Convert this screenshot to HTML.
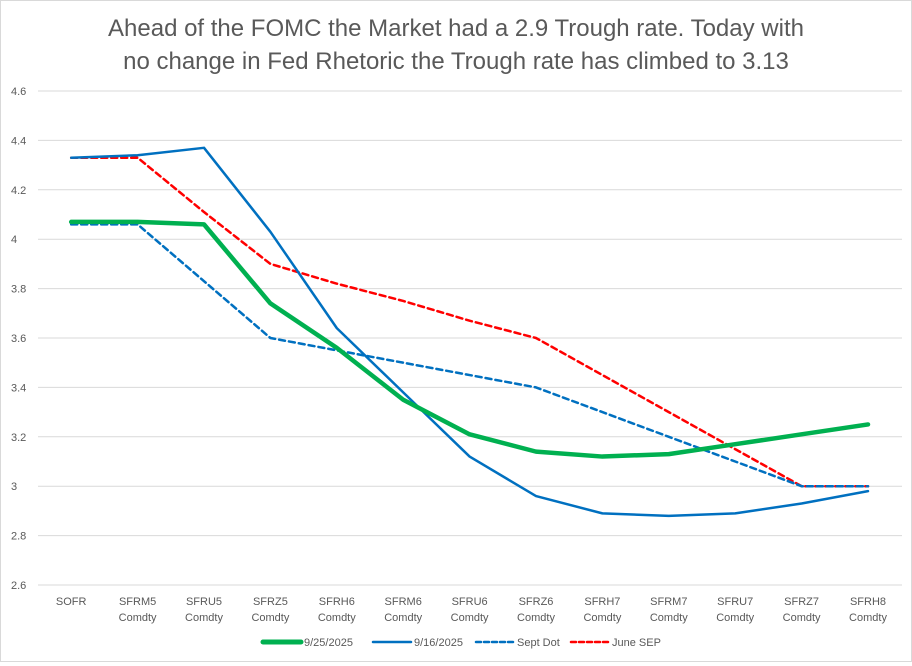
<!DOCTYPE html>
<html><head><meta charset="utf-8"><style>
body{margin:0;background:#fff;font-family:"Liberation Sans",sans-serif}
#wrap{position:relative;width:912px;height:662px;box-sizing:border-box;border:1px solid #d9d9d9;background:#fff}
</style></head><body>
<div id="wrap">
<svg id="chart" width="910" height="660"></svg>
</div>
<script>
const categories=["SOFR","SFRM5|Comdty","SFRU5|Comdty","SFRZ5|Comdty","SFRH6|Comdty","SFRM6|Comdty","SFRU6|Comdty","SFRZ6|Comdty","SFRH7|Comdty","SFRM7|Comdty","SFRU7|Comdty","SFRZ7|Comdty","SFRH8|Comdty"];
const s0925=[4.07,4.07,4.06,3.74,3.56,3.35,3.21,3.14,3.12,3.13,3.17,3.21,3.25];
const s0916=[4.33,4.34,4.37,4.03,3.64,3.38,3.12,2.96,2.89,2.88,2.89,2.93,2.98];
const septDot=[4.06,4.06,3.83,3.60,3.55,3.50,3.45,3.40,3.30,3.20,3.10,3.00,3.00];
const juneSep=[4.33,4.33,4.11,3.90,3.82,3.75,3.67,3.60,3.45,3.30,3.15,3.00,3.00];
const yTicks=["2.6","2.8","3","3.2","3.4","3.6","3.8","4","4.2","4.4","4.6"];
const seriesNames=["9/25/2025","9/16/2025","Sept Dot","June SEP"];

const NS="http://www.w3.org/2000/svg";
const svg=document.getElementById('chart');
function mk(t,a,p){const e=document.createElementNS(NS,t);for(const k in a)e.setAttribute(k,a[k]);(p||svg).appendChild(e);return e;}
const x0=37,bw=66.4;
function xs(i){return x0+bw*(i+0.5);}
function ys(v){return 584-(v-2.6)/0.2*49.4;}

let t=mk('text',{x:455,y:35,'text-anchor':'middle','font-size':'24',fill:'#595959'});
t.textContent="Ahead of the FOMC the Market had a 2.9 Trough rate.  Today with";


t=mk('text',{x:455,y:68,'text-anchor':'middle','font-size':'24',fill:'#595959'});
t.textContent="no change in Fed Rhetoric the Trough rate has climbed to 3.13";



yTicks.forEach(s=>{const v=parseFloat(s),y=ys(v);
 const g=mk('line',{x1:x0,x2:901,y1:y,y2:y,stroke:'#d9d9d9','stroke-width':1});
 
 
 const l=mk('text',{x:10,y:y+4,'font-size':'11',fill:'#595959'});l.textContent=s;
 
 
});
categories.forEach((c,i)=>{const parts=c.split('|');
 parts.forEach((p,j)=>{const l=mk('text',{x:xs(i),y:604+j*16,'text-anchor':'middle','font-size':'11',fill:'#595959'});l.textContent=p;
 
 });
});
function line(data,color,w,dash,name){
 const pts=data.map((v,i)=>xs(i)+','+ys(v)).join(' ');
 const a={points:pts,fill:'none',stroke:color,'stroke-width':w,'stroke-linejoin':'round','stroke-linecap':'round'};
 if(dash)a['stroke-dasharray']=dash;
 const e=mk('polyline',a);
 
 
}
line(juneSep,'#ff0000',2.5,'6,4','series-june-sep');
line(septDot,'#0070c0',2.5,'6,4','series-sept-dot');
line(s0916,'#0070c0',2.5,null,'series-9-16-2025');
line(s0925,'#00b050',4.5,null,'series-9-25-2025');

const leg=[[262,'#00b050',5,null],[372,'#0070c0',2.5,null],[475,'#0070c0',2.5,'5,3'],[570,'#ff0000',2.5,'5,3']];
leg.forEach((L,i)=>{
 const a={x1:L[0],x2:L[0]+38,y1:641,y2:641,stroke:L[1],'stroke-width':L[2],'stroke-linecap':'round'};
 if(L[3])a['stroke-dasharray']=L[3];
 const e=mk('line',a);
 
 
 const tx=mk('text',{x:L[0]+41,y:645,'font-size':'11',fill:'#595959'});tx.textContent=seriesNames[i];
 
 
});
</script>
</body></html>
